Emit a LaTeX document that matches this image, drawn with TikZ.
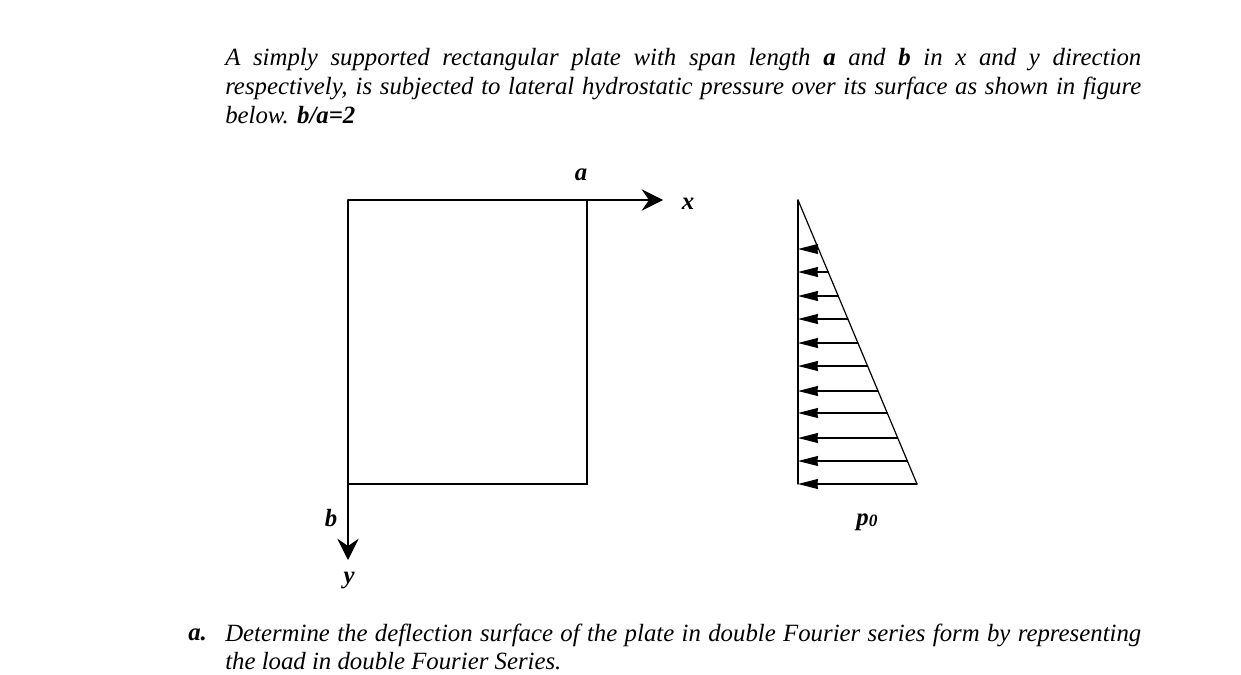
\documentclass[tikz,border=0pt]{standalone}
\usepackage{fontspec}
\setmainfont{Liberation Serif}
\usetikzlibrary{arrows.meta, positioning}

\tikzset{
    line/.style={line width=0.9pt, line cap=round},
    bigtip/.style={-{Stealth[length=16pt, width=16pt, inset=5.5pt]}},
    loadtip/.style={-{Stealth[length=15pt, width=7.5pt, inset=0.5pt]}},
    para/.style={anchor=north west, inner sep=0pt, text width=687pt, align=justify, font=\fontsize{18.6}{21.75}\selectfont\itshape},
    lab/.style={inner sep=0pt, font=\fontsize{18.6}{20}\selectfont\bfseries\itshape},
}

\begin{document}
\begin{tikzpicture}[x=0.75pt, y=-0.75pt]
    \useasboundingbox (0,0) rectangle (1241,674);

    % text above and below
    \node[para] at (225,48) (nintro) {A simply supported rectangular plate with span length \textbf{a} and \textbf{b} in x and y direction\linebreak respectively, is subjected to lateral hydrostatic pressure over its surface as shown in figure\linebreak below. \textbf{b/a=2}};
    \node[para, font=\fontsize{18.6}{21}\selectfont\itshape] at (225,624) (ntask) {Determine the deflection surface of the plate in double Fourier series form by representing\linebreak the load in double Fourier Series.};
    \node[lab, anchor=base west] at (188,640) (nitem) {a.};

    % plate
    \coordinate (tl) at (348,200);
    \coordinate (tr) at (587,200);
    \coordinate (br) at (587,484);
    \coordinate (bl) at (348,484);
    \coordinate (xend) at (663,200);
    \coordinate (yend) at (348,560);
    \draw[line] (tr) -- (br) -- (bl);
    \draw[line, bigtip] (tl) -- (xend);
    \draw[line, bigtip] (tl) -- (yend);
    \node[lab] at (581,175) (na) {a};
    \node[lab] at (688,204) (nx) {x};
    \node[lab] at (331,518) (nb) {b};
    \node[lab] at (349,580) (ny) {y};

    % pressure triangle
    \coordinate (ptop) at (798,200);
    \coordinate (pbot) at (798,484);
    \coordinate (pend) at (917,484);
    \draw[line] (ptop) -- (pbot);
    \draw[line] (ptop) -- (pend);
    \foreach \yy in {249,272,296,319,343,366,391,413,438,461,484} {
        \draw[line, loadtip] ({798+(\yy-200)*0.419},\yy) -- (798,\yy);
    }
    \node[lab] at (867,522) (npo) {p\raisebox{-0.15ex}{\fontsize{13}{13}\selectfont 0}};
\end{tikzpicture}
\end{document}
